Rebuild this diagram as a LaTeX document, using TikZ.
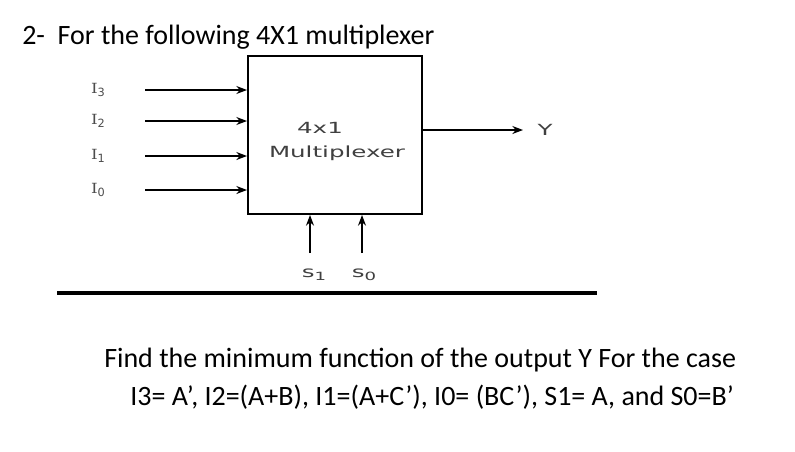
\documentclass[tikz,border=0pt]{standalone}
\usepackage{fontspec}
\setmainfont{Carlito}
\newfontfamily\dv{DejaVu Sans}
\newfontfamily\ser{DejaVu Serif}
\usetikzlibrary{arrows.meta}
\newcommand{\wide}[1]{\scalebox{1.6}[1]{#1}}
\begin{document}
\begin{tikzpicture}[x=0.75pt,y=-0.75pt,
  arr/.style={-{Stealth[length=8pt,width=6pt]},line width=0.9pt},
  lab/.style={font=\dv\fontsize{11.5}{13}\selectfont,text=black!75,inner sep=0pt},
  ilab/.style={font=\ser\fontsize{10.5}{12}\selectfont,text=black!70,inner sep=0pt},
  txt/.style={font=\fontsize{21}{24}\selectfont,inner sep=0pt}]
\useasboundingbox (0,0) rectangle (795,451);
\node[txt,anchor=west] (title) at (22,37) {2-\ \ For the following 4X1 multiplexer};
\node[draw,line width=1.5pt,minimum width=174*0.75pt,minimum height=158*0.75pt,anchor=north west,inner sep=0pt] (mux) at (247,55) {};
\node[lab] (m1) at (320,128) {\wide{4x1}};
\node[lab] (m2) at (337,153) {\wide{Multiplexer}};
\foreach \n/\y in {3/90,2/121,1/156,0/190}{
  \coordinate (s\n) at (145,\y);
  \node[ilab] (l\n) at (98,\y) {\scalebox{1.2}[1]{I}\raisebox{-2pt}{\fontsize{8.5}{9}\dv\selectfont\n}};
  \draw[arr] (s\n) -- (mux.west |- s\n);
}
\coordinate (yo) at (523,130);
\draw[arr] (mux.east |- yo) -- (yo);
\node[lab] (Y) at (545,130) {\wide{Y}};
\coordinate (a1) at (310,253);
\coordinate (a0) at (362,253);
\draw[arr] (a1) -- (a1 |- mux.south);
\draw[arr] (a0) -- (a0 |- mux.south);
\node[lab] (ls1) at (314,275) {\wide{s\raisebox{-2pt}{\fontsize{8.5}{9}\selectfont 1}}};
\node[lab] (ls0) at (364,275) {\wide{s\raisebox{-2pt}{\fontsize{8.5}{9}\selectfont 0}}};
\coordinate (h1) at (57,293);
\coordinate (h2) at (597,293);
\draw[line width=3pt] (h1) -- (h2);
\node[txt,anchor=west] (q1) at (104,360) {Find the minimum function of the output Y For the case};
\node[txt,anchor=west] (q2) at (130,397) {I3= A’, I2=(A+B), I1=(A+C’), I0= (BC’), S1= A, and S0=B’};
\end{tikzpicture}
\end{document}
